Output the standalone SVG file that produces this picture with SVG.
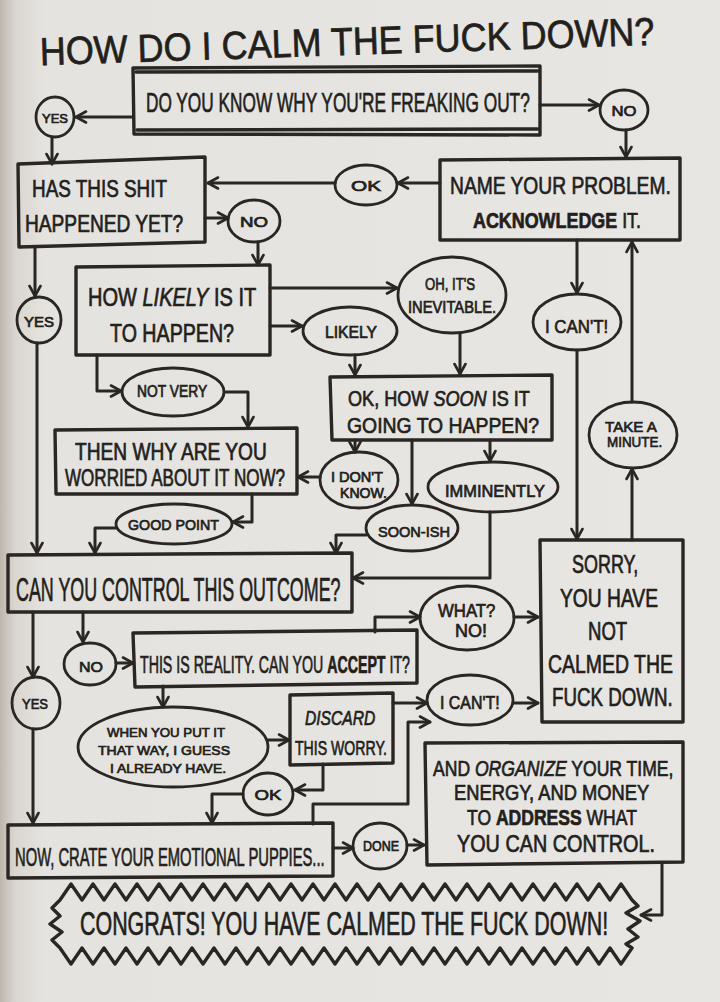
<svg xmlns="http://www.w3.org/2000/svg" width="720" height="1002" viewBox="0 0 720 1002">
<defs>
<linearGradient id="paper" x1="0" y1="0" x2="1" y2="0">
<stop offset="0" stop-color="#bdb6ac"/>
<stop offset="0.02" stop-color="#d9d5cf"/>
<stop offset="0.06" stop-color="#e5e3df"/>
<stop offset="1" stop-color="#e8e6e3"/>
</linearGradient>
<marker id="ah" viewBox="0 0 14 14" refX="12" refY="7" markerWidth="14" markerHeight="14" markerUnits="userSpaceOnUse" orient="auto">
<path d="M2,1.5 L12,7 L2,12.5" fill="none" stroke="#2a2623" stroke-width="2.6" stroke-linecap="round" stroke-linejoin="round"/>
</marker>
<style>
.ln{fill:none;stroke:#2a2623;stroke-width:3;stroke-linecap:round;stroke-linejoin:round;marker-end:url(#ah)}
.bx{fill:none;stroke:#2a2623;stroke-width:3.4;stroke-linejoin:round;stroke-linecap:round}
.el{fill:none;stroke:#2a2623;stroke-width:2.8}
.t{font-family:"Liberation Sans",Arial,sans-serif;fill:#231f1c;stroke:#231f1c;stroke-width:0.7;font-weight:normal}
.m{text-anchor:middle}
.i{font-style:italic}
.b{font-weight:bold}
</style>
</defs>
<rect x="0" y="0" width="720" height="1002" fill="url(#paper)"/>

<g id="title">
<text class="t" transform="rotate(-1.9 347 55) translate(40 55) scale(0.922 1)" font-size="39" textLength="667" lengthAdjust="spacingAndGlyphs">HOW DO I CALM THE FUCK DOWN?</text>
</g>

<g id="connectors">
<path class="ln" d="M133,117 L76,117"/>
<path class="ln" d="M540,105 L599,105"/>
<path class="ln" d="M52,137 L52,164"/>
<path class="ln" d="M626,130 L626,157"/>
<path class="ln" d="M440,183 L398,183"/>
<path class="ln" d="M335,183 L208,183"/>
<path class="ln" d="M205,218 L228,218"/>
<path class="ln" d="M258,242 L258,265"/>
<path class="ln" d="M35,247 L35,296"/>
<path class="ln" d="M37,343 L37,553"/>
<path class="ln" d="M270,288 L397,288"/>
<path class="ln" d="M270,326 L302,326"/>
<path class="ln" d="M355,355 L355,375"/>
<path class="ln" d="M460,333 L460,374"/>
<path class="ln" d="M97,355 L97,391 L121,391"/>
<path class="ln" d="M226,392 L248,392 L248,427"/>
<path class="ln" d="M355,440 L355,452"/>
<path class="ln" d="M320,477 L298,477"/>
<path class="ln" d="M412,440 L412,504"/>
<path class="ln" d="M490,440 L490,461"/>
<path class="ln" d="M252,494 L252,522 L233,522"/>
<path class="ln" d="M116,528 L95,528 L95,553"/>
<path class="ln" d="M366,535 L336,535 L336,553"/>
<path class="ln" d="M490,512 L490,578 L353,578"/>
<path class="ln" d="M577,240 L577,293"/>
<path class="ln" d="M577,350 L577,539"/>
<path class="ln" d="M632,540 L632,469"/>
<path class="ln" d="M632,402 L632,242"/>
<path class="ln" d="M83,612 L83,642"/>
<path class="ln" d="M116,663 L133,663"/>
<path class="ln" d="M33,612 L33,677"/>
<path class="ln" d="M33,729 L33,823"/>
<path class="ln" d="M375,632 L375,617 L420,617"/>
<path class="ln" d="M514,617 L538,617"/>
<path class="ln" d="M163,686 L163,707"/>
<path class="ln" d="M268,740 L289,740"/>
<path class="ln" d="M393,703 L427,703"/>
<path class="ln" d="M513,703 L538,703"/>
<path class="ln" d="M323,764 L323,790 L295,790"/>
<path class="ln" d="M243,794 L212,794 L212,823"/>
<path class="ln" d="M313,824 L313,804 L408,804 L408,722 L430,722"/>
<path class="ln" d="M333,848 L353,848"/>
<path class="ln" d="M407,845 L424,845"/>
<path class="ln" d="M662,863 L662,915 L641,915"/>
</g>

<g id="n-know">
<path class="bx" d="M133,68 L540,66 L540,135 L134,134 Z"/>
<path class="bx" d="M136,72 L538,71 M137,130 L538,129"/>
<text class="t" transform="translate(146 112) scale(0.615 1)" font-size="28" textLength="624" lengthAdjust="spacingAndGlyphs">DO YOU KNOW WHY YOU'RE FREAKING OUT?</text>
</g>
<g id="n-yes1">
<ellipse class="el" cx="55" cy="117" rx="19" ry="20"/>
<text class="t m" x="55" y="123" font-size="13" textLength="26" lengthAdjust="spacingAndGlyphs">YES</text>
</g>
<g id="n-no1">
<ellipse class="el" cx="624" cy="110" rx="24" ry="20"/>
<text class="t m" x="624" y="116" font-size="14" textLength="25" lengthAdjust="spacingAndGlyphs">NO</text>
</g>
<g id="n-has">
<path class="bx" d="M18,164 L205,157 L205,242 L19,247 Z"/>
<text class="t" transform="translate(32 197) scale(0.785 1)" font-size="24" textLength="172" lengthAdjust="spacingAndGlyphs">HAS THIS SHIT</text>
<text class="t" transform="translate(25 232) scale(0.795 1)" font-size="24" textLength="199" lengthAdjust="spacingAndGlyphs">HAPPENED YET?</text>
</g>
<g id="n-ok1">
<ellipse class="el" cx="366" cy="185" rx="31" ry="20"/>
<text class="t m" x="366" y="191" font-size="15" textLength="30" lengthAdjust="spacingAndGlyphs">OK</text>
</g>
<g id="n-name">
<path class="bx" d="M440,160 L680,158 L680,240 L440,240 Z"/>
<text class="t" transform="translate(450 194) scale(0.8 1)" font-size="24" textLength="276" lengthAdjust="spacingAndGlyphs">NAME YOUR PROBLEM.</text>
<text class="t" transform="translate(473 228) scale(0.804 1)" font-size="22" textLength="209" lengthAdjust="spacingAndGlyphs"><tspan class="b">ACKNOWLEDGE</tspan> IT.</text>
</g>
<g id="n-no2">
<ellipse class="el" cx="254" cy="221" rx="26" ry="21"/>
<text class="t m" x="254" y="227" font-size="14" textLength="28" lengthAdjust="spacingAndGlyphs">NO</text>
</g>
<g id="n-likely-q">
<path class="bx" d="M76,267 L270,265 L270,355 L76,355 Z"/>
<text class="t" transform="translate(88 306) scale(0.79 1)" font-size="25" textLength="213" lengthAdjust="spacingAndGlyphs">HOW <tspan class="i">LIKELY</tspan> IS IT</text>
<text class="t" transform="translate(110 342) scale(0.785 1)" font-size="25" textLength="158" lengthAdjust="spacingAndGlyphs">TO HAPPEN?</text>
</g>
<g id="n-yes2">
<ellipse class="el" cx="39" cy="320" rx="22" ry="23"/>
<text class="t m" x="39" y="327" font-size="14" textLength="30" lengthAdjust="spacingAndGlyphs">YES</text>
</g>
<g id="n-inevitable">
<ellipse class="el" cx="452" cy="295" rx="54" ry="38"/>
<text class="t" transform="translate(425 290) scale(0.77 1)" font-size="17" textLength="65" lengthAdjust="spacingAndGlyphs">OH, IT'S</text>
<text class="t" transform="translate(408 313) scale(0.855 1)" font-size="17" textLength="103" lengthAdjust="spacingAndGlyphs">INEVITABLE.</text>
</g>
<g id="n-likely">
<ellipse class="el" cx="350" cy="331" rx="47" ry="24"/>
<text class="t" x="325" y="338" font-size="16" textLength="52" lengthAdjust="spacingAndGlyphs">LIKELY</text>
</g>
<g id="n-icant1">
<ellipse class="el" cx="577" cy="322" rx="44" ry="28"/>
<text class="t" transform="translate(545 333) scale(0.89 1)" font-size="19" textLength="71" lengthAdjust="spacingAndGlyphs">I CAN'T!</text>
</g>
<g id="n-notvery">
<ellipse class="el" cx="173" cy="392" rx="51" ry="24"/>
<text class="t" transform="translate(137 397) scale(0.855 1)" font-size="16" textLength="82" lengthAdjust="spacingAndGlyphs">NOT VERY</text>
</g>
<g id="n-soon-q">
<path class="bx" d="M330,377 L552,375 L552,440 L332,440 Z"/>
<text class="t" transform="translate(348 406) scale(0.823 1)" font-size="22" textLength="221" lengthAdjust="spacingAndGlyphs">OK, HOW <tspan class="i">SOON</tspan> IS IT</text>
<text class="t" transform="translate(347 433) scale(0.877 1)" font-size="22" textLength="219" lengthAdjust="spacingAndGlyphs">GOING TO HAPPEN?</text>
</g>
<g id="n-minute">
<ellipse class="el" cx="633" cy="435" rx="44" ry="33"/>
<text class="t" x="605" y="432" font-size="15" textLength="52" lengthAdjust="spacingAndGlyphs">TAKE A</text>
<text class="t" transform="translate(607 447) scale(0.89 1)" font-size="15" textLength="62" lengthAdjust="spacingAndGlyphs">MINUTE.</text>
</g>
<g id="n-thenwhy">
<path class="bx" d="M55,430 L297,428 L297,494 L56,494 Z"/>
<text class="t" transform="translate(75 460) scale(0.823 1)" font-size="23" textLength="233" lengthAdjust="spacingAndGlyphs">THEN WHY ARE YOU</text>
<text class="t" transform="translate(65 486) scale(0.736 1)" font-size="23" textLength="299" lengthAdjust="spacingAndGlyphs">WORRIED ABOUT IT NOW?</text>
</g>
<g id="n-idontknow">
<ellipse class="el" cx="359" cy="480" rx="39" ry="28"/>
<text class="t" x="331" y="482" font-size="14" textLength="52" lengthAdjust="spacingAndGlyphs">I DON'T</text>
<text class="t" x="340" y="498" font-size="14" textLength="47" lengthAdjust="spacingAndGlyphs">KNOW.</text>
</g>
<g id="n-imminently">
<ellipse class="el" cx="493" cy="487" rx="65" ry="25"/>
<text class="t" x="445" y="497" font-size="17" textLength="100" lengthAdjust="spacingAndGlyphs">IMMINENTLY</text>
</g>
<g id="n-soonish">
<ellipse class="el" cx="412" cy="528" rx="46" ry="23"/>
<text class="t" x="378" y="537" font-size="15" textLength="72" lengthAdjust="spacingAndGlyphs">SOON-ISH</text>
</g>
<g id="n-goodpoint">
<ellipse class="el" cx="174" cy="524" rx="58" ry="20"/>
<text class="t" x="128" y="530" font-size="15" textLength="91" lengthAdjust="spacingAndGlyphs">GOOD POINT</text>
</g>
<g id="n-control">
<path class="bx" d="M8,555 L352,553 L352,612 L8,612 Z"/>
<text class="t" transform="translate(16 601) scale(0.54 1)" font-size="33" textLength="601" lengthAdjust="spacingAndGlyphs">CAN YOU CONTROL THIS OUTCOME?</text>
</g>
<g id="n-sorry">
<path class="bx" d="M540,540 L683,540 L683,722 L542,722 Z"/>
<text class="t" transform="translate(572 573) scale(0.69 1)" font-size="25" textLength="96" lengthAdjust="spacingAndGlyphs">SORRY,</text>
<text class="t" transform="translate(560 607) scale(0.76 1)" font-size="25" textLength="129" lengthAdjust="spacingAndGlyphs">YOU HAVE</text>
<text class="t" transform="translate(588 640) scale(0.74 1)" font-size="25" textLength="53" lengthAdjust="spacingAndGlyphs">NOT</text>
<text class="t" transform="translate(548 673) scale(0.776 1)" font-size="25" textLength="161" lengthAdjust="spacingAndGlyphs">CALMED THE</text>
<text class="t" transform="translate(552 706) scale(0.75 1)" font-size="25" textLength="161" lengthAdjust="spacingAndGlyphs">FUCK DOWN.</text>
</g>
<g id="n-whatno">
<ellipse class="el" cx="467" cy="618" rx="47" ry="32"/>
<text class="t" transform="translate(438 617) scale(0.857 1)" font-size="19" textLength="67" lengthAdjust="spacingAndGlyphs">WHAT?</text>
<text class="t" x="455" y="637" font-size="19" textLength="32" lengthAdjust="spacingAndGlyphs">NO!</text>
</g>
<g id="n-no3">
<ellipse class="el" cx="90" cy="664" rx="26" ry="21"/>
<text class="t m" x="91" y="672" font-size="15" textLength="24" lengthAdjust="spacingAndGlyphs">NO</text>
</g>
<g id="n-reality">
<path class="bx" d="M133,633 L417,630 L417,683 L135,687 Z"/>
<text class="t" transform="translate(140 673) scale(0.587 1)" font-size="24" textLength="460" lengthAdjust="spacingAndGlyphs">THIS IS REALITY. CAN YOU <tspan class="b">ACCEPT</tspan> IT?</text>
</g>
<g id="n-yes3">
<ellipse class="el" cx="36" cy="703" rx="24" ry="26"/>
<text class="t m" x="35" y="709" font-size="14" textLength="26" lengthAdjust="spacingAndGlyphs">YES</text>
</g>
<g id="n-when">
<ellipse class="el" cx="173" cy="747" rx="95" ry="40"/>
<text class="t" x="107" y="737" font-size="13" textLength="118" lengthAdjust="spacingAndGlyphs">WHEN YOU PUT IT</text>
<text class="t" x="98" y="755" font-size="13" textLength="132" lengthAdjust="spacingAndGlyphs">THAT WAY, I GUESS</text>
<text class="t" x="110" y="773" font-size="13" textLength="116" lengthAdjust="spacingAndGlyphs">I ALREADY HAVE.</text>
</g>
<g id="n-discard">
<path class="bx" d="M290,695 L393,693 L393,763 L290,765 Z"/>
<text class="t i" transform="translate(305 725) scale(0.74 1)" font-size="21" textLength="95" lengthAdjust="spacingAndGlyphs">DISCARD</text>
<text class="t" transform="translate(295 755) scale(0.657 1)" font-size="21" textLength="140" lengthAdjust="spacingAndGlyphs">THIS WORRY.</text>
</g>
<g id="n-icant2">
<ellipse class="el" cx="470" cy="700" rx="43" ry="25"/>
<text class="t" transform="translate(440 709) scale(0.89 1)" font-size="18" textLength="67" lengthAdjust="spacingAndGlyphs">I CAN'T!</text>
</g>
<g id="n-ok2">
<ellipse class="el" cx="268" cy="794" rx="25" ry="21"/>
<text class="t m" x="268" y="800" font-size="15" textLength="27" lengthAdjust="spacingAndGlyphs">OK</text>
</g>
<g id="n-organize">
<path class="bx" d="M425,743 L683,742 L683,862 L427,865 Z"/>
<text class="t" transform="translate(433 776) scale(0.796 1)" font-size="22" textLength="302" lengthAdjust="spacingAndGlyphs">AND <tspan class="i">ORGANIZE</tspan> YOUR TIME,</text>
<text class="t" transform="translate(454 800) scale(0.82 1)" font-size="22" textLength="238" lengthAdjust="spacingAndGlyphs">ENERGY, AND MONEY</text>
<text class="t" transform="translate(467 825) scale(0.79 1)" font-size="22" textLength="215" lengthAdjust="spacingAndGlyphs">TO <tspan class="b">ADDRESS</tspan> WHAT</text>
<text class="t" transform="translate(457 852) scale(0.825 1)" font-size="24" textLength="240" lengthAdjust="spacingAndGlyphs">YOU CAN CONTROL.</text>
</g>
<g id="n-crate">
<path class="bx" d="M8,825 L333,823 L333,876 L8,878 Z"/>
<text class="t" transform="translate(15 866) scale(0.563 1)" font-size="26" textLength="550" lengthAdjust="spacingAndGlyphs">NOW, CRATE YOUR EMOTIONAL PUPPIES...</text>
</g>
<g id="n-done">
<ellipse class="el" cx="380" cy="846" rx="27" ry="23"/>
<text class="t m" x="381" y="851" font-size="14" textLength="36" lengthAdjust="spacingAndGlyphs">DONE</text>
</g>
<g id="n-congrats">
<path class="bx" d="M60,900 L71,884 L82,900 L93,884 L104,900 L115,884 L126,900 L137,884 L148,900 L159,884 L170,900 L181,884 L192,900 L203,884 L214,900 L225,884 L236,900 L247,884 L258,900 L269,884 L280,900 L291,884 L302,900 L313,884 L324,900 L335,884 L346,900 L357,884 L368,900 L379,884 L390,900 L401,884 L412,900 L423,884 L434,900 L445,884 L456,900 L467,884 L478,900 L489,884 L500,900 L511,884 L522,900 L533,884 L544,900 L555,884 L566,900 L577,884 L588,900 L599,884 L610,900 L621,884 L632,900 L638,906 L626,913 L640,921 L628,929 L638,937 L626,944 L632,948 L621,964 L610,948 L599,964 L588,948 L577,964 L566,948 L555,964 L544,948 L533,964 L522,948 L511,964 L500,948 L489,964 L478,948 L467,964 L456,948 L445,964 L434,948 L423,964 L412,948 L401,964 L390,948 L379,964 L368,948 L357,964 L346,948 L335,964 L324,948 L313,964 L302,948 L291,964 L280,948 L269,964 L258,948 L247,964 L236,948 L225,964 L214,948 L203,964 L192,948 L181,964 L170,948 L159,964 L148,948 L137,964 L126,948 L115,964 L104,948 L93,964 L82,948 L71,964 L60,948 L52,940 L62,932 L50,924 L60,916 L52,908 Z"/>
<text class="t" transform="translate(80 935) scale(0.644 1)" font-size="33" textLength="820" lengthAdjust="spacingAndGlyphs">CONGRATS! YOU HAVE CALMED THE FUCK DOWN!</text>
</g>
</svg>
